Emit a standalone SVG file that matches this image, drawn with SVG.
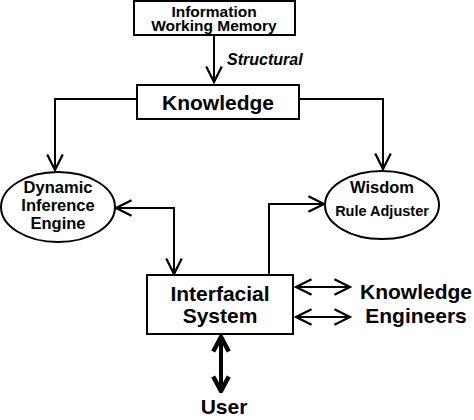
<svg xmlns="http://www.w3.org/2000/svg" width="474" height="420" viewBox="0 0 474 420">
<style>
.box{fill:#fff;stroke:#000;stroke-width:2}
.t{font-family:"Liberation Sans",Arial,sans-serif;font-weight:bold;fill:#000;text-anchor:middle}
.c{fill:none;stroke:#000;stroke-width:2}
</style>
<defs>
<marker id="a" markerUnits="userSpaceOnUse" markerWidth="20" markerHeight="20" viewBox="-16 -9 18 18" refX="0" refY="0" orient="auto-start-reverse">
<path d="M-14,-7 L0,0 L-14,7" fill="none" stroke="#000" stroke-width="2"/>
</marker>
<marker id="b" markerUnits="userSpaceOnUse" markerWidth="20" markerHeight="20" viewBox="-16 -9 18 18" refX="0" refY="0" orient="auto-start-reverse">
<path d="M-13,-7 L0,0 L-13,7" fill="none" stroke="#000" stroke-width="4"/>
</marker>
</defs>
<rect width="474" height="420" fill="#fff"/>
<g id="connectors">
<path class="c" d="M214,35 V82" marker-end="url(#a)"/>
<path class="c" d="M137,99 H55 V170" marker-end="url(#a)"/>
<path class="c" d="M299,99 H383 V169" marker-end="url(#a)"/>
<path class="c" d="M116,208 H174 V274" marker-start="url(#a)" marker-end="url(#a)"/>
<path class="c" d="M269,275 V204 H324" marker-end="url(#a)"/>
<path class="c" d="M296,287 H350" marker-start="url(#a)" marker-end="url(#a)"/>
<path class="c" d="M296,317 H350" marker-start="url(#a)" marker-end="url(#a)"/>
<path class="c" style="stroke-width:4" d="M221,337 V391" marker-start="url(#b)" marker-end="url(#b)"/>
<text class="t" x="227" y="65" style="font-style:italic;font-size:16px;text-anchor:start">Structural</text>
</g>
<g id="info">
<rect class="box" x="134" y="1" width="161" height="34"/>
<text class="t" x="214" y="17" font-size="15.5">Information</text>
<text class="t" x="214" y="31" font-size="15.5">Working Memory</text>
</g>
<g id="knowledge">
<rect class="box" x="137" y="85" width="162" height="34"/>
<text class="t" x="218" y="110" font-size="21">Knowledge</text>
</g>
<g id="dynamic">
<ellipse class="box" cx="58" cy="207" rx="57" ry="35"/>
<text class="t" x="58" y="193" font-size="16.5">Dynamic</text>
<text class="t" x="58" y="211" font-size="16.5">Inference</text>
<text class="t" x="58" y="229" font-size="16.5">Engine</text>
</g>
<g id="wisdom">
<ellipse class="box" cx="382" cy="205" rx="57" ry="34"/>
<text class="t" x="382" y="193" font-size="16.5">Wisdom</text>
<text class="t" x="382" y="216" font-size="14.5">Rule Adjuster</text>
</g>
<g id="interfacial">
<rect class="box" x="147" y="275" width="146" height="59"/>
<text class="t" x="220" y="301" font-size="21">Interfacial</text>
<text class="t" x="220" y="323" font-size="21">System</text>
</g>
<g id="engineers">
<text class="t" x="416" y="299" font-size="21">Knowledge</text>
<text class="t" x="416" y="323" font-size="21">Engineers</text>
</g>
<g id="user">
<text class="t" x="224" y="414" font-size="21">User</text>
</g>
</svg>
